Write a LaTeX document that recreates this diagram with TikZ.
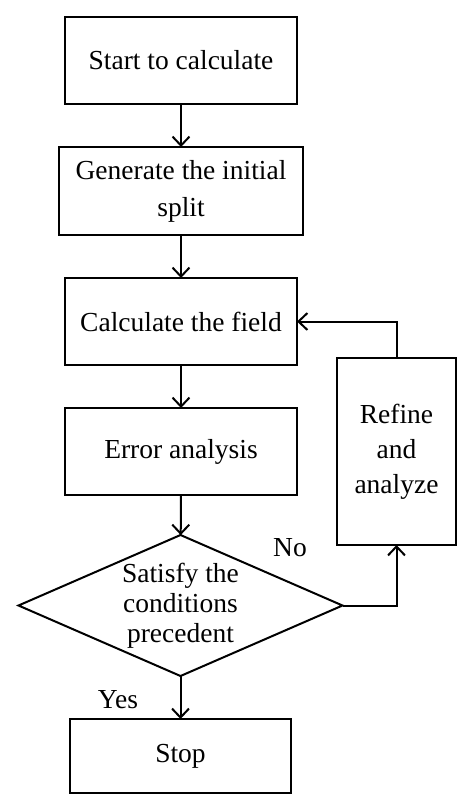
\documentclass[tikz,border=0pt]{standalone}
\usepackage{fontspec}
\setmainfont{Liberation Serif}
\usetikzlibrary{shapes.geometric,arrows.meta}
\begin{document}
\begin{tikzpicture}[x=1pt,y=-1pt,
  box/.style={draw, line width=2pt, inner sep=0pt, outer sep=0pt, align=center,
    font=\fontsize{27.5}{33}\selectfont},
  arr/.style={line width=2pt, -{Straight Barb[length=9pt,width=17pt]}},
  lbl/.style={font=\fontsize{27.5}{33}\selectfont}]
\useasboundingbox[fill=white] (0,0) rectangle (474,811);
\node[box, minimum width=232pt, minimum height=87pt] (start) at (181,60.5) {Start to calculate};
\node[box, minimum width=244pt, minimum height=88pt, font=\fontsize{27.5}{37}\selectfont] (gen) at (181,191) {Generate the initial\\split};
\node[box, minimum width=232pt, minimum height=87pt] (calc) at (181,321.5) {Calculate the field};
\node[box, minimum width=232pt, minimum height=87pt] (err) at (181,451.5) {Error analysis};
\node[box, minimum width=119pt, minimum height=187pt, font=\fontsize{27.5}{35}\selectfont] (ref) at (396.5,451.5) {Refine\\and\\analyze};
\node[draw, diamond, line width=2pt, inner sep=0pt, outer sep=0pt, minimum width=324pt, minimum height=141pt] (dec) at (180.5,605.5) {};
\node[align=center, font=\fontsize{27.5}{30}\selectfont] (dectext) at (dec) {Satisfy the\\conditions\\precedent};
\node[box, minimum width=221pt, minimum height=74pt] (stop) at (180.5,756) {Stop};
\node[lbl] (no) at (290,548) {No};
\node[lbl] (yes) at (118,700) {Yes};
\draw[arr] (start) -- (gen);
\draw[arr] (gen) -- (calc);
\draw[arr] (calc) -- (err);
\draw[arr] (err) -- (dec);
\draw[arr] (dec) -- (stop);
\draw[arr] (dec.east) -| (ref.south);
\draw[arr] (ref.north) |- (calc.east);
\end{tikzpicture}
\end{document}
